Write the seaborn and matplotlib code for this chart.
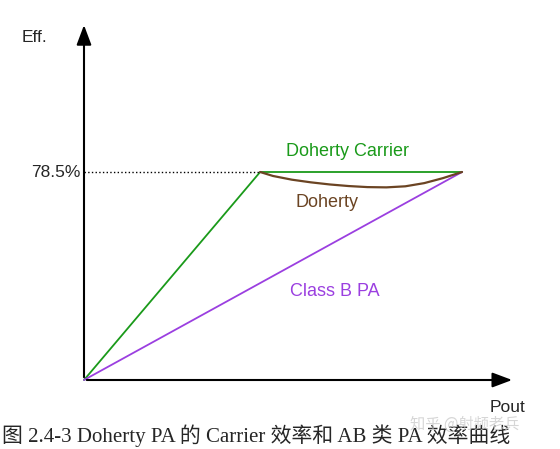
import numpy as np
import pandas as pd
import matplotlib.pyplot as plt
import seaborn as sns

sns.set_style("white")
plt.rcParams['font.family'] = ['Liberation Sans', 'DejaVu Sans']

# 归一化输出功率 / 效率 (%)
carrier_x = [0.0, 0.466, 1.0]
carrier_y = [0.0, 78.5, 78.5]
classb_x = [0.0, 1.0]
classb_y = [0.0, 78.5]
doherty_x = [0.466, 0.5, 0.55, 0.6, 0.65, 0.7, 0.75, 0.8, 0.85, 0.9, 0.95, 1.0]
doherty_y = [78.5, 77.0, 75.6, 74.6, 73.8, 73.2, 72.8, 72.7, 73.1, 74.3, 76.2, 78.5]

fig = plt.figure(figsize=(5.6, 4.49), dpi=100)
ax = fig.add_axes([84/560, 69/449, 378/560, 208/449])
ax.set_xlim(0, 1)
ax.set_ylim(0, 78.5)
ax.axis('off')

sns.lineplot(x=carrier_x, y=carrier_y, color='#1a9a1a', lw=1.3, ax=ax, clip_on=False)
sns.lineplot(x=classb_x, y=classb_y, color='#9b3fe0', lw=1.3, ax=ax, clip_on=False)
sns.lineplot(x=doherty_x, y=doherty_y, color='#6b4423', lw=1.6, ax=ax, clip_on=False)
ax.plot([0, carrier_x[1]], [78.5, 78.5], ls=':', color='black', lw=1, clip_on=False)

# 坐标轴箭头
arrow = dict(arrowstyle='-|>,head_length=1.2,head_width=0.45', color='black', lw=1.5)
ax.annotate('', xy=(0, 135), xytext=(0, 0), arrowprops=arrow, annotation_clip=False)
ax.annotate('', xy=(1.14, 0), xytext=(0, 0), arrowprops=arrow, annotation_clip=False)

fig.text(22/560, 1-38/449, 'Eff.', fontsize=12.5, va='center')
fig.text(80/560, 1-172/449, '78.5%', fontsize=12.5, va='center', ha='right')
fig.text(490/560, 1-408/449, 'Pout', fontsize=12.5, va='center')
fig.text(347/560, 1-152/449, 'Doherty Carrier', fontsize=13, color='#1a9a1a', ha='center', va='center')
fig.text(327/560, 1-203/449, 'Doherty', fontsize=13, color='#6b4423', ha='center', va='center')
fig.text(335/560, 1-292/449, 'Class B PA', fontsize=13, color='#9b3fe0', ha='center', va='center')
fig.text(2/560, 1-436/449, '图 2.4-3 Doherty PA 的 Carrier 效率和 AB 类 PA 效率曲线', fontsize=15,
         ha='left', va='center', family=['Liberation Serif', 'Noto Sans CJK SC'])
fig.text(410/560, 1-424/449, '知乎 @射频老兵', fontsize=11, color='#cccccc', alpha=0.8,
         va='center', family=['Noto Sans CJK SC', 'DejaVu Sans'])

fig.savefig('out.png', dpi=100)
